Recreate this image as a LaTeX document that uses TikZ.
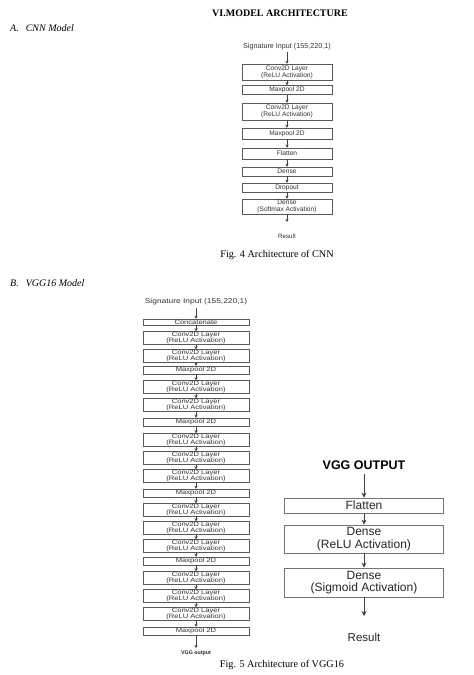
\documentclass[tikz,border=0pt]{standalone}
\usepackage{fontspec}
\setmainfont{Liberation Serif}
\newfontfamily\arial{Liberation Sans}
\newfontfamily\arialwide[FakeStretch=1.2]{Liberation Sans}
\usetikzlibrary{arrows.meta}
\begin{document}
\begin{tikzpicture}[x=1pt,y=-1pt,
  cnnbox/.style={draw=black!65, line width=0.5pt, minimum width=90pt, inner sep=0pt, align=center,
    font=\arial\fontsize{6.6}{7}\selectfont, text=black!80},
  vggbox/.style={draw=black!65, line width=0.5pt, minimum width=106pt, inner sep=0pt, align=center,
    font=\arialwide\fontsize{6.3}{5.8}\selectfont, text=black!80},
  vconv/.style={vggbox, minimum height=13pt},
  vpool/.style={vggbox, minimum height=8pt},
  rbox/.style={draw=black!55, line width=0.8pt, minimum width=159pt, inner sep=0pt, align=center,
    font=\arial\fontsize{12}{12.5}\selectfont, text=black!85},
  arr/.style={draw=black!75, line width=0.5pt, -{Stealth[length=3pt,width=3pt]}},
  rarr/.style={draw=black!75, line width=0.9pt, -{Stealth[length=5pt,width=5pt]}},
  plain/.style={inner sep=0pt, align=center},
  captext/.style={inner sep=0pt, font=\fontsize{10.2}{12}\selectfont}
]
\useasboundingbox (0,0) rectangle (474,675);
\fill[white] (0,0) rectangle (474,675);

% headings
\node[captext, font=\bfseries\fontsize{10}{12}\selectfont] (title) at (280,13) {VI.MODEL ARCHITECTURE};
\node[captext, anchor=west, font=\itshape\fontsize{10}{12}\selectfont] (secA) at (10,28) {A.\hspace{7pt}CNN Model};
\node[captext, anchor=west, font=\itshape\fontsize{10}{12}\selectfont] (secB) at (10,283) {B.\hspace{7pt}VGG16 Model};
\node[captext] (fig4) at (277,255) {Fig. 4 Architecture of CNN};
\node[captext] (fig5) at (282,665) {Fig. 5 Architecture of VGG16};

% CNN
\node[plain, font=\arial\fontsize{7.2}{8}\selectfont, text=black!80] (cin) at (287,47) {Signature Input (155,220,1)};
\node[cnnbox, minimum height=16pt] (c1) at (287,72) {Conv2D Layer\\(ReLU Activation)};
\node[cnnbox, minimum height=9pt] (c2) at (287,90) {Maxpool 2D};
\node[cnnbox, minimum height=17pt] (c3) at (287,111.5) {Conv2D Layer\\(ReLU Activation)};
\node[cnnbox, minimum height=11pt] (c4) at (287,133.5) {Maxpool 2D};
\node[cnnbox, minimum height=11pt] (c5) at (287,153.5) {Flatten};
\node[cnnbox, minimum height=9pt] (c6) at (287,171.5) {Dense};
\node[cnnbox, minimum height=9pt] (c7) at (287,187.5) {Dropout};
\node[cnnbox, minimum height=15pt] (c8) at (287,206.5) {Dense\\(Softmax Activation)};
\coordinate (cend) at (287,222);
\node[plain, font=\arial\fontsize{6.2}{7}\selectfont, text=black!80] (cres) at (287,236) {Result};

\draw[arr, shorten <=1.5pt] (cin.south) -- (c1.north);
\draw[arr] (c1.south) -- (c2.north);
\draw[arr] (c2.south) -- (c3.north);
\draw[arr] (c3.south) -- (c4.north);
\draw[arr] (c4.south) -- (c5.north);
\draw[arr] (c5.south) -- (c6.north);
\draw[arr] (c6.south) -- (c7.north);
\draw[arr] (c7.south) -- (c8.north);
\draw[arr] (c8.south) -- (cend);

% VGG16 column
\node[plain, font=\arialwide\fontsize{7}{8}\selectfont, text=black!80] (vin) at (196,302) {Signature Input (155,220,1)};
\node[vggbox, minimum height=6pt] (v1) at (196,322) {Concatenate};
\node[vconv] (v2) at (196,338) {Conv2D Layer\\(ReLU Activation)};
\node[vconv] (v3) at (196,356) {Conv2D Layer\\(ReLU Activation)};
\node[vpool] (v4) at (196,370) {Maxpool 2D};
\node[vconv] (v5) at (196,387) {Conv2D Layer\\(ReLU Activation)};
\node[vconv] (v6) at (196,405) {Conv2D Layer\\(ReLU Activation)};
\node[vpool] (v7) at (196,422) {Maxpool 2D};
\node[vconv] (v8) at (196,440) {Conv2D Layer\\(ReLU Activation)};
\node[vconv] (v9) at (196,458) {Conv2D Layer\\(ReLU Activation)};
\node[vconv] (v10) at (196,476) {Conv2D Layer\\(ReLU Activation)};
\node[vpool] (v11) at (196,493) {Maxpool 2D};
\node[vconv] (v12) at (196,510) {Conv2D Layer\\(ReLU Activation)};
\node[vconv] (v13) at (196,528) {Conv2D Layer\\(ReLU Activation)};
\node[vconv] (v14) at (196,546) {Conv2D Layer\\(ReLU Activation)};
\node[vpool] (v15) at (196,561) {Maxpool 2D};
\node[vconv] (v16) at (196,578) {Conv2D Layer\\(ReLU Activation)};
\node[vconv] (v17) at (196,596) {Conv2D Layer\\(ReLU Activation)};
\node[vconv] (v18) at (196,614) {Conv2D Layer\\(ReLU Activation)};
\node[vpool] (v19) at (196,631) {Maxpool 2D};
\coordinate (vend) at (196,648);
\node[plain, font=\arial\bfseries\fontsize{5.3}{6}\selectfont, text=black!85] (vout) at (196,653) {VGG output};

\draw[arr, shorten <=3pt] (vin.south) -- (v1.north);
\foreach \a/\b in {v1/v2, v2/v3, v3/v4, v4/v5, v5/v6, v6/v7, v7/v8, v8/v9, v9/v10, v10/v11,
  v11/v12, v12/v13, v13/v14, v14/v15, v15/v16, v16/v17, v17/v18, v18/v19}
  \draw[arr] (\a.south) -- (\b.north);
\draw[arr] (v19.south) -- (vend);

% right head
\node[plain, font=\arial\bfseries\fontsize{12.5}{14}\selectfont] (ro) at (364,465) {VGG OUTPUT};
\node[rbox, minimum height=15pt] (r1) at (364,505.5) {Flatten};
\node[rbox, minimum height=28pt] (r2) at (364,539) {Dense\\(ReLU Activation)};
\node[rbox, minimum height=29pt] (r3) at (364,582.5) {Dense\\(Sigmoid Activation)};
\coordinate (rend) at (364,616);
\node[plain, font=\arial\fontsize{11.5}{13}\selectfont, text=black!85] (rres) at (364,637) {Result};

\draw[rarr, shorten <=4pt] (ro.south) -- (r1.north);
\draw[rarr] (r1.south) -- (r2.north);
\draw[rarr] (r2.south) -- (r3.north);
\draw[rarr] (r3.south) -- (rend);
\end{tikzpicture}
\end{document}
